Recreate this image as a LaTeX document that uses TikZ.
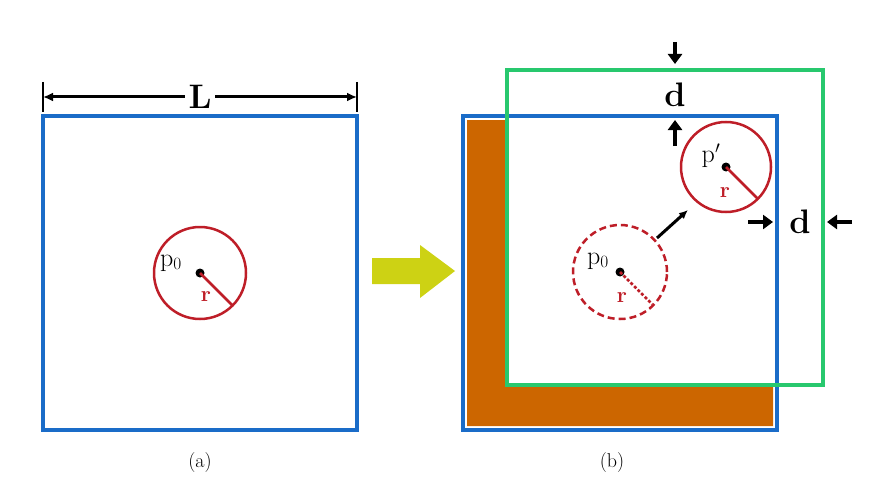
\documentclass[tikz,border=0pt]{standalone}
\usetikzlibrary{arrows.meta}
\definecolor{bl}{RGB}{26,108,200}
\definecolor{gr}{RGB}{40,200,110}
\definecolor{rd}{RGB}{190,30,40}
\definecolor{yl}{RGB}{205,210,20}
\definecolor{og}{RGB}{204,102,0}
\begin{document}
\begin{tikzpicture}[x=1pt,y=-1pt,
  bluebox/.style={draw=bl,line width=4},
  greenbox/.style={draw=gr,line width=4},
  ring/.style={draw=rd,line width=2.5},
  rad/.style={draw=rd,line width=2.5},
  rlab/.style={text=rd,font=\bfseries\fontsize{22}{24}\selectfont},
  plab/.style={font=\fontsize{26}{28}\selectfont},
  dlab/.style={font=\bfseries\fontsize{34}{38}\selectfont},
  blk/.style={-{Triangle[length=10,width=14]},line width=4}]
\useasboundingbox (0,0) rectangle (869,500);
% (a)
\draw[bluebox] (43,116) rectangle (357,430);
\draw[line width=2.5] (43,82) -- (43,112) (357,82) -- (357,112);
\node[dlab] (L) at (200,97) {L};
\coordinate (la) at (43,97); \coordinate (lb) at (357,97);
\draw[-{Latex[length=10,width=9]},line width=3] (L) -- (la);
\draw[-{Latex[length=10,width=9]},line width=3] (L) -- (lb);
\node[ring,circle,minimum size=92,inner sep=0] (c0) at (200,273) {};
\fill (200,273) circle (4.5);
\draw[rad] (200,273) -- (232.5,305.5);
\node[plab] (p0a) at (171,263) {p$_0$};
\node[rlab] (ra) at (206,297) {r};
% yellow arrow
\fill[yl] (372,258) -- (420,258) -- (420,245) -- (455,271) -- (420,298) -- (420,284) -- (372,284) -- cycle;
% (b)
\fill[og] (467,120) -- (505,120) -- (505,387) -- (773,387) -- (773,426) -- (467,426) -- cycle;
\draw[bluebox] (463,116) rectangle (777,430);
\draw[greenbox] (507,70) rectangle (823,385);
\node[dlab] (d1) at (675,95) {d};
\coordinate (t1) at (675,42); \coordinate (t2) at (675,64);
\draw[blk] (t1) -- (t2);
\coordinate (u1) at (675,146); \coordinate (u2) at (675,120);
\draw[blk] (u1) -- (u2);
\node[dlab] (d2) at (800,222) {d};
\coordinate (s1) at (748,222); \coordinate (s2) at (773,222);
\draw[blk] (s1) -- (s2);
\coordinate (w1) at (852,222); \coordinate (w2) at (827,222);
\draw[blk] (w1) -- (w2);
\node[ring,circle,minimum size=90,inner sep=0] (c1) at (726,167) {};
\fill (726,167) circle (4.5);
\draw[rad] (726,167) -- (758,199);
\node[plab] (p1) at (711,156) {p$'$};
\node[rlab] (rb1) at (725,193) {r};
\node[ring,dash pattern=on 7 off 4,circle,minimum size=94,inner sep=0] (c2) at (620,272) {};
\fill (620,272) circle (4.5);
\draw[rad,dash pattern=on 3 off 2] (620,272) -- (652,304);
\node[plab] (p2) at (598,261) {p$_0$};
\node[rlab] (rb2) at (622,298) {r};
\coordinate (m1) at (657,238); \coordinate (m2) at (688,210);
\draw[-{Latex[length=9,width=8]},line width=3] (m1) -- (m2);
\node[font=\fontsize{20}{22}\selectfont] (cap1) at (200,463) {(a)};
\node[font=\fontsize{20}{22}\selectfont] (cap2) at (612,463) {(b)};
\end{tikzpicture}
\end{document}
